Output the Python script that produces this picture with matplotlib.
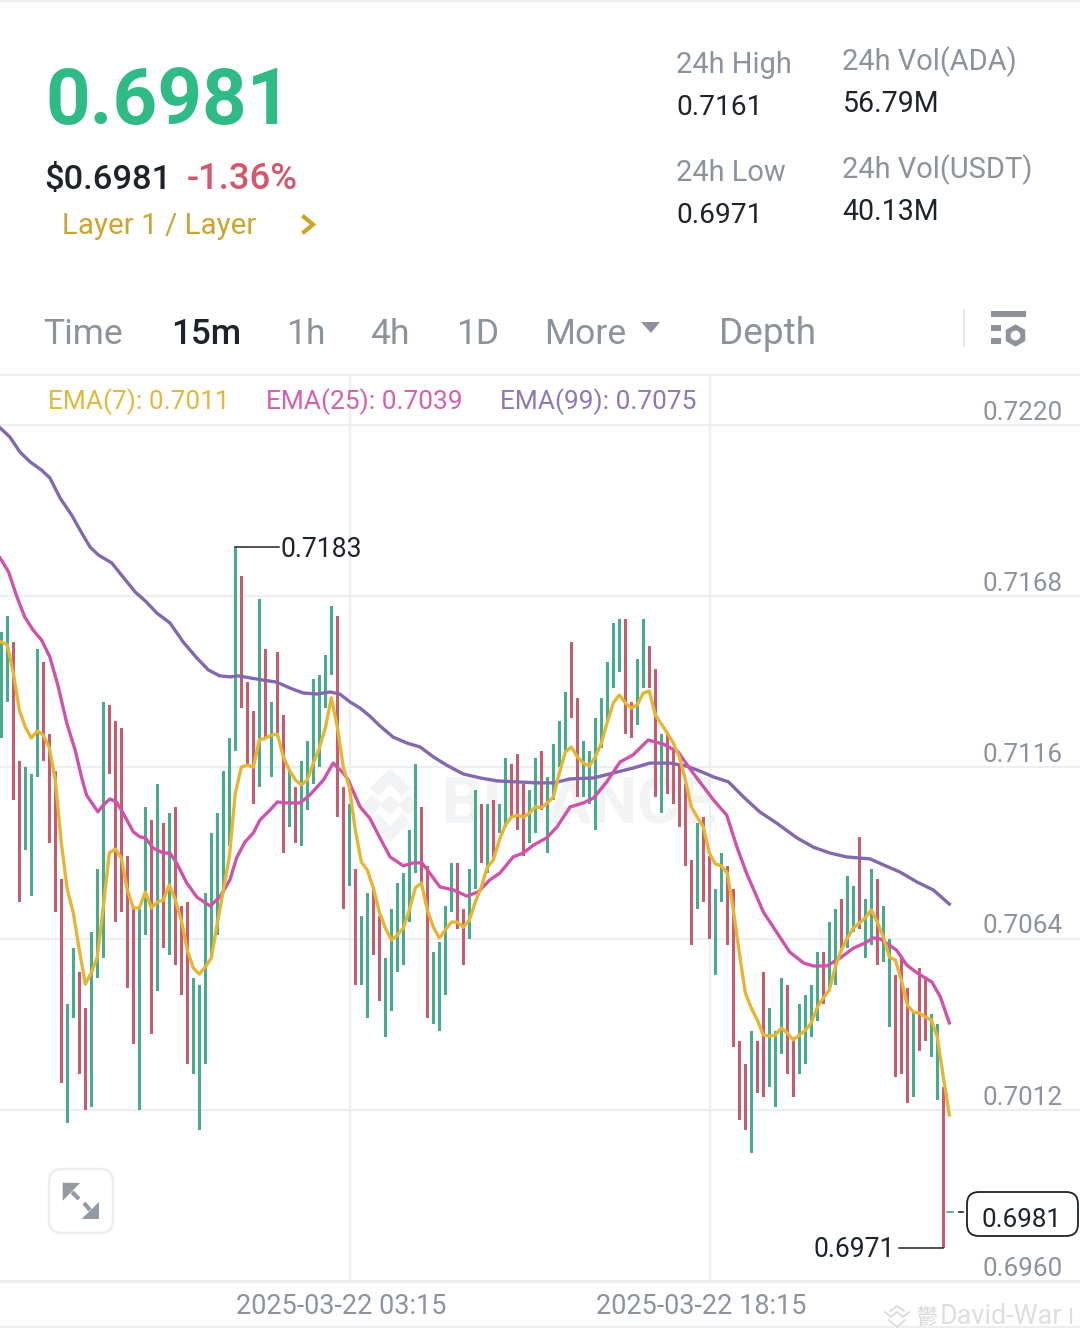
import matplotlib
matplotlib.use("Agg")
import matplotlib.pyplot as plt
from matplotlib.patches import FancyBboxPatch, Rectangle, Polygon

plt.rcParams['font.family'] = ['Roboto', 'Noto Sans CJK SC', 'DejaVu Sans']

# candles, left to right (15m)
highs = [.7157,.7162,.7154,.7118,.7116,.7114,.7152,.7148,.7126,.7115,
         .7082,.7044,.7061,.7054,.7043,.7066,.7085,.7136,.7135,.7130,
         .7128,.7089,.7074,.7073,.7104,.7100,.7111,.7099,.7102,.7104,
         .7074,.7075,.7052,.7050,.7078,.7096,.7102,.7115,.7125,.7183,
         .7174,.7142,.7133,.7167,.7152,.7136,.7151,.7132,.7115,.7110,
         .7118,.7124,.7143,.7144,.7150,.7165,.7162,.7110,.7105,.7085,
         .7071,.7078,.7079,.7071,.7058,.7073,.7081,.7084,.7097,.7117,
         .7104,.7086,.7060,.7063,.7074,.7087,.7087,.7073,.7085,.7109,
         .7105,.7105,.7106,.7105,.7119,.7117,.7120,.7111,.7109,.7119,
         .7121,.7113,.7123,.7130,.7139,.7154,.7137,.7124,.7121,.7131,
         .7137,.7148,.7160,.7161,.7161,.7136,.7149,.7161,.7153,.7146,
         .7126,.7126,.7121,.7117,.7111,.7088,.7099,.7101,.7089,.7079,
         .7090,.7086,.7079,.7033,.7026,.7036,.7033,.7054,.7043,.7036,
         .7052,.7050,.7034,.7044,.7047,.7050,.7060,.7060,.7069,.7073,
         .7076,.7083,.7080,.7095,.7076,.7085,.7082,.7074,.7064,.7053,
         .7058,.7049,.7042,.7055,.7052,.7041,.7038,.7019]
lows = [.7125,.7136,.7106,.7075,.7091,.7077,.7113,.7118,.7093,.7072,
        .7020,.7008,.7040,.7023,.7012,.7013,.7052,.7058,.7114,.7069,
        .7072,.7049,.7032,.7012,.7065,.7035,.7048,.7061,.7059,.7056,
        .7047,.7026,.7023,.7006,.7026,.7058,.7065,.7078,.7092,.7121,
        .7134,.7117,.7105,.7110,.7125,.7113,.7126,.7090,.7098,.7093,
        .7092,.7103,.7111,.7116,.7134,.7144,.7101,.7073,.7080,.7050,
        .7050,.7040,.7059,.7045,.7034,.7042,.7054,.7056,.7069,.7084,
        .7080,.7040,.7038,.7036,.7047,.7072,.7067,.7056,.7064,.7079,
        .7087,.7084,.7088,.7096,.7098,.7101,.7097,.7089,.7093,.7096,
        .7103,.7090,.7106,.7116,.7121,.7131,.7107,.7107,.7105,.7097,
        .7122,.7130,.7140,.7145,.7126,.7125,.7129,.7140,.7140,.7107,
        .7102,.7108,.7105,.7098,.7086,.7062,.7073,.7075,.7064,.7053,
        .7075,.7062,.7031,.7009,.7006,.6999,.7017,.7016,.7019,.7013,
        .7029,.7023,.7016,.7023,.7026,.7034,.7039,.7044,.7049,.7050,
        .7061,.7061,.7066,.7067,.7058,.7062,.7056,.7057,.7037,.7022,
        .7023,.7014,.7016,.7030,.7033,.7028,.7015,.6970]
colours = ("ggrrgggrrr" "rggrrgggrr" "rrrggrgrgr" "rrgggggggg"
           "rrrgrgrrgr" "ggggggrrgr" "ggrrgggggg" "rrggggrrgg"
           "rgrggrrrgg" "rgggg" "rrggg" "ggggrrggrr"
           "grrrrrgrrg" "grrrrgrrgg" "grrgggg" "rggrgg" "rgg"
           "rggrrrgrrg" "grg")

# EMA(7) has a value on every candle slot
ema7 = [.71541,.71532,.71447,.71334,.71283,.71249,.71271,.71258,.71219,.71122,
        .70930,.70788,.70718,.70605,.70502,.70536,.70584,.70736,.70900,.70912,
        .70885,.70788,.70733,.70733,.70782,.70733,.70751,.70757,.70803,.70757,
        .70696,.70605,.70551,.70532,.70554,.70581,.70687,.70788,.70888,.71082,
        .71161,.71167,.71161,.71243,.71249,.71258,.71261,.71192,.71152,.71122,
        .71107,.71122,.71173,.71219,.71280,.71371,.71283,.71161,.71100,.70970,
        .70873,.70848,.70794,.70721,.70672,.70636,.70651,.70672,.70727,.70794,
        .70809,.70727,.70675,.70642,.70666,.70690,.70690,.70675,.70696,.70751,
        .70797,.70857,.70879,.70939,.70985,.71009,.71015,.71009,.71021,.71040,
        .71037,.71052,.71070,.71143,.71207,.71222,.71192,.71173,.71164,.71192,
        .71234,.71298,.71356,.71380,.71356,.71340,.71350,.71386,.71392,.71319,
        .71292,.71264,.71234,.71192,.71122,.71040,.71009,.70979,.70900,.70867,
        .70861,.70839,.70727,.70596,.70475,.70429,.70393,.70347,.70344,.70347,
        .70368,.70353,.70332,.70347,.70362,.70384,.70432,.70460,.70484,.70554,
        .70605,.70642,.70672,.70687,.70703,.70727,.70690,.70645,.70584,.70575,
        .70514,.70438,.70417,.70414,.70402,.70393,.70341,.70220,.70104]

# EMA(25) and EMA(99) read at the bends only, x is the candle slot
ema25X = [-0.2,1.2,2.6,3.9,5.3,6.7,8.1,9.5,10.9,12.3,13.4,14.2,16.1,17,18.1,19.2,20.3,22,23.1,24,
          25.3,27,28.1,29.2,30.9,32.6,34.8,36.4,38.1,39.2,40.6,42,43.1,44.8,46,47.6,49.8,51.4,53.7,55.3,
          57,57.8,59.8,61.4,63.1,64.8,67,68.7,70.1,71.4,73.1,75.3,77.6,79.5,81.4,83.1,85.3,87,88.7,90.9,
          92.6,94.8,97,98.7,100.9,103.1,105.3,107.8,110.3,112.8,114.8,116.4,118.7,120.9,122.6,124.2,127,129.2,131.4,133.7,
          135.3,137.6,139.8,142,144,145.3,146.5,149.2,150.9,152.6,155.1,156.5,158]
ema25 = [.71796,.71754,.71678,.71617,.71577,.71547,.71495,.71404,.71295,.71213,.71128,.71076,.71025,.71046,.71064,.71055,.71021,.70964,.70949,.70946,
         .70915,.70900,.70900,.70870,.70809,.70766,.70739,.70766,.70818,.70885,.70933,.70961,.71000,.71031,.71055,.71052,.71052,.71076,.71122,.71173,
         .71143,.71122,.71040,.71006,.70946,.70888,.70861,.70870,.70870,.70839,.70797,.70788,.70769,.70782,.70818,.70839,.70888,.70900,.70924,.70946,
         .70979,.71040,.71052,.71067,.71116,.71176,.71198,.71243,.71231,.71207,.71155,.71116,.71061,.71015,.70918,.70839,.70721,.70660,.70599,.70566,
         .70557,.70557,.70581,.70611,.70627,.70642,.70639,.70605,.70560,.70536,.70508,.70463,.70384]
ema99X = [-0.2,1.4,3.1,4.8,6.7,8.1,9.8,11.7,13.4,14.8,16.2,18.4,20.3,22.3,24.2,25.9,28.1,30.3,32.6,34.5,
          36.4,38.1,39.5,41.4,43.7,45.9,48.1,50.3,52.6,54.8,56.4,58.1,59.8,61.4,63.1,65.3,67.6,69.8,72,74.2,
          77,79.8,82.6,85.9,89.2,92,94.8,98.7,102,105.3,108.1,111.4,114.2,116.4,118.7,121.2,123.7,126.4,129.2,132.6,
          135.3,138.1,140.9,144.8,147,149.8,152.6,155.3,158]
ema99 = [.72191,.72164,.72118,.72088,.72063,.72039,.71978,.71927,.71872,.71829,.71805,.71781,.71738,.71693,.71662,.71629,.71599,.71541,.71492,.71456,
         .71438,.71435,.71438,.71432,.71425,.71419,.71401,.71386,.71383,.71389,.71383,.71359,.71340,.71316,.71286,.71252,.71234,.71222,.71192,.71167,
         .71140,.71128,.71119,.71116,.71113,.71113,.71125,.71128,.71143,.71158,.71173,.71173,.71164,.71149,.71131,.71116,.71070,.71025,.70991,.70946,
         .70918,.70900,.70888,.70882,.70864,.70842,.70812,.70788,.70745]

yTicks = [.7220,.7168,.7116,.7064,.7012,.6960]
yTickLabels = ["0.7220","0.7168","0.7116","0.7064","0.7012","0.6960"]
xTicks = [58.1,118.1]
xTickLabels = ["2025-03-22 03:15","2025-03-22 18:15"]
tabNames = ["Time","15m","1h","4h","1D","More","Depth"]
tabLeft = [45,173,288,372,458,546,721]

GREEN = "#43ae89"
RED = "#cb5a6d"
GREY = "#8d939c"
DARK = "#1e2329"
LINEGREY = "#eeeeee"

fig = plt.figure(figsize=(10.8,13.37),dpi=100,facecolor="white")

# page layer in pixels, everything that is not price data
ui = fig.add_axes([0,0,1,1],zorder=1)
ui.set_xlim(0,1080)
ui.set_ylim(1337,0)
ui.axis("off")

def label(x,y,s,px,color=DARK,weight="normal",ha="left"):
    if ha == "left":
        x = x-1.5
    ui.text(x,y,s,fontsize=px*0.72,color=color,fontweight=weight,ha=ha,va="baseline")

ui.plot([0,1080],[1,1],color=LINEGREY,lw=1.5)
ui.add_patch(Rectangle((72,0),43,2,color="#f0c94f",lw=0))

label(47,124,"0.6981",78,"#2ebb85","bold")
label(46,189,"$0.6981",34.5,DARK,"medium")
label(188,189,"-1.36%",36.5,"#d6566b","medium")
label(64,234,"Layer 1 / Layer",29.5,"#cba52f")
ui.plot([304,313,304],[217,224.5,232],color="#cfa326",lw=3,solid_joinstyle="miter")

label(678,73,"24h High",29,GREY)
label(678,115,"0.7161",28)
label(844,70,"24h Vol(ADA)",29,GREY)
label(844,112,"56.79M",28.5)
label(678,181,"24h Low",29,GREY)
label(678,223,"0.6971",28)
label(844,178,"24h Vol(USDT)",29,GREY)
label(844,220,"40.13M",28.5)

for name,left in zip(tabNames,tabLeft):
    if name == "15m":
        label(left,344,name,35,DARK,"medium")
    elif name == "Depth":
        label(left,344,name,37,GREY)
    else:
        label(left,344,name,35.5,GREY)
ui.add_patch(Polygon([(641,322),(660,322),(651,333)],color=GREY,lw=0))

# settings icon
ui.plot([964,964],[310,346],color="#e8e8e8",lw=1.5)
ui.add_patch(Rectangle((991,311),35,6,color=GREY,lw=0))
ui.add_patch(Rectangle((991,325),10,6,color=GREY,lw=0))
ui.add_patch(Rectangle((991,338),10,6,color=GREY,lw=0))
ui.plot([1015],[335],marker="h",ms=15,mfc=GREY,mec=GREY)
ui.plot([1015],[335],marker="o",ms=6,mfc="white",mec="white")

ui.plot([0,1080],[375,375],color=LINEGREY,lw=1.5)
ui.plot([0,1080],[1282,1282],color=LINEGREY,lw=1.5)
ui.plot([0,1080],[1327,1327],color=LINEGREY,lw=1.5)

# faint exchange mark behind the chart
markGrey = "#f2f3f4"
ui.add_patch(Polygon([(390,768),(410,788),(402,796),(390,784),(378,796),(370,788)],color=markGrey,lw=0))
ui.add_patch(Polygon([(390,842),(410,822),(402,814),(390,826),(378,814),(370,822)],color=markGrey,lw=0))
ui.add_patch(Polygon([(390,795),(400,805),(390,815),(380,805)],color=markGrey,lw=0))
ui.add_patch(Polygon([(362,805),(372,795),(382,805),(372,815)],color=markGrey,lw=0))
ui.add_patch(Polygon([(398,805),(408,795),(418,805),(408,815)],color=markGrey,lw=0))
label(443,823,"BINANCE",65,markGrey,"bold")

# expand button
ui.add_patch(FancyBboxPatch((52,1172),58,58,boxstyle="round,pad=3,rounding_size=13",fc="white",ec=LINEGREY,lw=1.8))
iconGrey = "#949aa3"
ui.add_patch(Polygon([(62.7,1182.7),(80,1183),(62.7,1200.7)],color=iconGrey,lw=0))
ui.plot([72,79],[1192,1199],color=iconGrey,lw=3,solid_capstyle="butt")
ui.add_patch(Polygon([(99,1219),(99,1202),(81.5,1219)],color=iconGrey,lw=0))
ui.plot([90,84],[1210,1203],color=iconGrey,lw=3,solid_capstyle="butt")

for tick,name in zip(xTicks,xTickLabels):
    label(1.33+6*tick-8.5,1314,name,27,GREY,ha="center")

# last price tag
ui.add_patch(FancyBboxPatch((975,1200),95,28,boxstyle="round,pad=8,rounding_size=12",fc="white",ec=DARK,lw=1.3))
label(1021.5,1227,"0.6981",26,DARK,ha="center")

# phone watermark
waterGrey = "#d6d8db"
ui.plot([890,897,904],[1311,1306,1311],color=waterGrey,lw=1.2)
ui.plot([885,891,897,903,909],[1312,1317,1312,1317,1312],color=waterGrey,lw=1.2)
ui.plot([889,897,905],[1320,1327,1320],color=waterGrey,lw=1.2)
label(918,1324,"\u9b31",21,waterGrey)
label(941,1324,"David-War",27,"#dcdee0")
label(1070,1324,"I",22,"#dcdee0")

# price chart, same pixel scale as the page
ax = fig.add_axes([0,(1337-1282)/1337,1,(1282-376)/1337],zorder=2)
ax.patch.set_alpha(0)
pxPerUnit = 171.2/0.0052
ax.set_xlim(-1.33/6,(1080-1.33)/6)
ax.set_ylim(.7220-(1282-425)/pxPerUnit,.7220+(425-376)/pxPerUnit)
for side in ax.spines:
    ax.spines[side].set_visible(False)
ax.set_xticks([])
ax.set_yticks([])
for tick in yTicks:
    ax.axhline(tick,color=LINEGREY,lw=1.5,zorder=1)
for tick in xTicks:
    ax.axvline(tick,color=LINEGREY,lw=1.5,zorder=1)

for i in range(len(highs)):
    if colours[i] == "g":
        c = GREEN
    else:
        c = RED
    ax.bar(i,highs[i]-lows[i],bottom=lows[i],width=0.58,color=c,lw=0,zorder=2)

ax.plot(ema99X,ema99,color="#8468ae",lw=2.4,zorder=3)
ax.plot(ema25X,ema25,color="#cf52ad",lw=2.4,zorder=4)
ax.plot(range(len(ema7)),ema7,color="#e6b533",lw=2.4,zorder=5)

for tick,name in zip(yTicks,yTickLabels):
    ax.annotate(name,xy=(170.2,tick),xytext=(0,3.8),textcoords="offset points",
                ha="center",va="baseline",fontsize=26*0.72,color=GREY)

# high and low marks
ax.plot([39,46.3],[.7183,.7183],color=DARK,lw=1.1,zorder=6)
ax.annotate("0.7183",xy=(46.5,.7183),xytext=(0,-7.2),textcoords="offset points",fontsize=26.5*0.72,color=DARK,va="baseline")
ax.plot([149.6,157],[.6970,.6970],color=DARK,lw=1.1,zorder=6)
ax.annotate("0.6971",xy=(148.9,.6970),xytext=(0,-6.5),textcoords="offset points",fontsize=26.5*0.72,color=DARK,ha="right",va="baseline")

# dashed stub from the last candle to the price tag
ax.plot([157.6,158.6],[.6981,.6981],color=GREEN,lw=1.2,zorder=6)
ax.plot([159.6,160.2],[.6981,.6981],color=DARK,lw=1.2,zorder=6)

# legend above the grid lines
for x,name,c in [(47.5,"EMA(7): 0.7011","#e2b93b"),(265.5,"EMA(25): 0.7039","#d55fb4"),(499.5,"EMA(99): 0.7075","#8f78b6")]:
    fig.text(x/1080,1-409/1337,name,fontsize=26.3*0.72,color=c,va="baseline",zorder=5)

fig.savefig("out.png",dpi=100)
